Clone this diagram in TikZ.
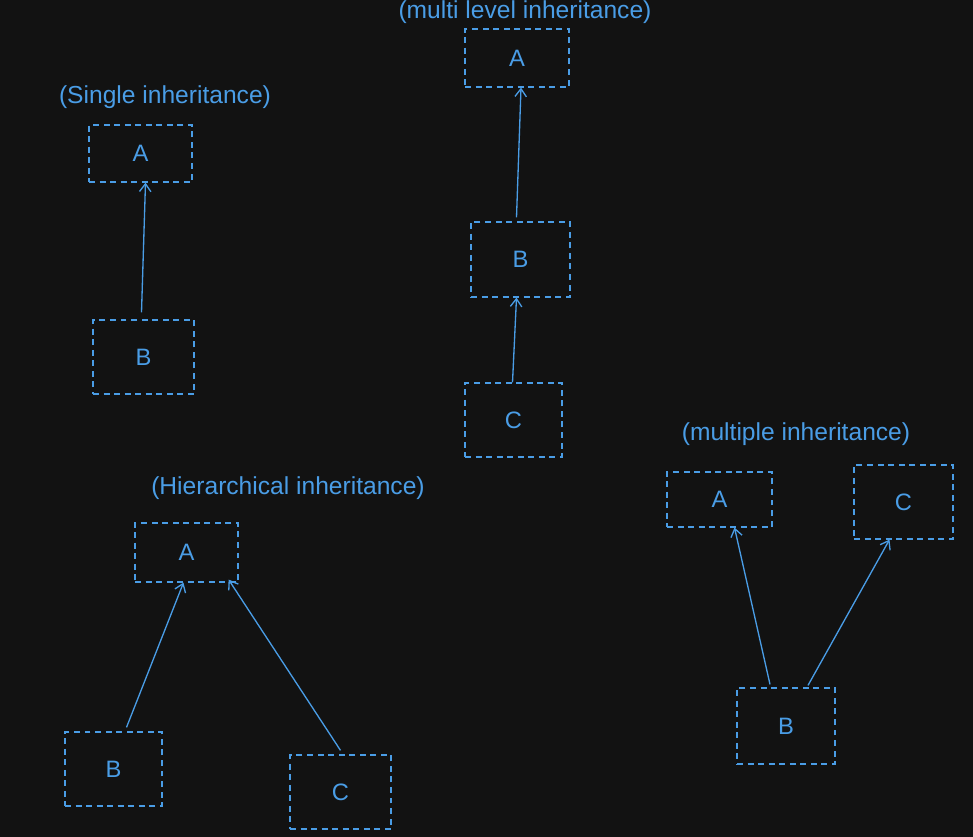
\documentclass[tikz,border=0pt]{standalone}
\usepackage{fontspec}
\setmainfont{Liberation Sans}
\usetikzlibrary{arrows.meta,positioning}
\definecolor{bgdark}{HTML}{121212}
\definecolor{sketchblue}{HTML}{4A9DE6}

\begin{document}
\begin{tikzpicture}[x=0.02cm,y=-0.02cm,
cls/.style = {draw=sketchblue, line width=0.7pt, dash pattern=on 3.4pt off 2.6pt,
	text=sketchblue, font=\fontsize{13.5}{15}\selectfont, inner sep=0pt},
title/.style = {text=sketchblue, font=\fontsize{14}{16}\selectfont, inner sep=0pt},
line/.style ={draw=sketchblue, line width=0.75pt, -{Straight Barb[length=4.5pt,width=6.5pt]}}]

\fill[bgdark] (0,0) rectangle (973,837);
\useasboundingbox (0,0) rectangle (973,837);

% single inheritance
\node [title] (stitle) at (165,97) {(Single inheritance)};
\node [cls, minimum width=2.06cm, minimum height=1.14cm] (sA) at (140.5,153.5) {A};
\node [cls, minimum width=2.02cm, minimum height=1.48cm] (sB) at (143.5,357) {B};

% multi level inheritance
\node [title] (mtitle) at (525,12.5) {(multi level inheritance)};
\node [cls, minimum width=2.08cm, minimum height=1.16cm] (mA) at (517,58) {A};
\node [cls, minimum width=1.98cm, minimum height=1.5cm] (mB) at (520.5,259.5) {B};
\node [cls, minimum width=1.94cm, minimum height=1.48cm] (mC) at (513.5,420) {C};

% hierarchical inheritance
\node [title] (htitle) at (288,488) {(Hierarchical inheritance)};
\node [cls, minimum width=2.06cm, minimum height=1.18cm] (hA) at (186.5,552.5) {A};
\node [cls, minimum width=1.94cm, minimum height=1.48cm] (hB) at (113.5,769) {B};
\node [cls, minimum width=2.02cm, minimum height=1.48cm] (hC) at (340.5,792) {C};

% multiple inheritance
\node [title] (ptitle) at (796,434) {(multiple inheritance)};
\node [cls, minimum width=2.1cm, minimum height=1.1cm] (pA) at (719.5,499.5) {A};
\node [cls, minimum width=1.98cm, minimum height=1.48cm] (pC) at (903.5,502) {C};
\node [cls, minimum width=1.96cm, minimum height=1.52cm] (pB) at (786,726) {B};

\begin{scope}[every path/.style=line]
\path ([xshift=-0.04cm, yshift=0.14cm]sB.north) -- ([xshift=0.1cm]sA.south);
\path ([xshift=-0.08cm, yshift=0.08cm]mB.north) -- ([xshift=0.08cm]mA.south);
\path ([xshift=-0.02cm]mC.north) -- ([xshift=-0.08cm]mB.south);
\path ([xshift=0.26cm, yshift=0.08cm]hB.north) -- ([xshift=-0.06cm]hA.south);
\path ([yshift=0.08cm]hC.north) -- ([xshift=-0.2cm, yshift=0.06cm]hA.south east);
\path ([xshift=-0.32cm, yshift=0.06cm]pB.north) -- ([xshift=0.3cm]pA.south);
\path ([xshift=0.44cm, yshift=0.04cm]pB.north) -- ([xshift=-0.28cm]pC.south);
\end{scope}

\end{tikzpicture}
\end{document}
